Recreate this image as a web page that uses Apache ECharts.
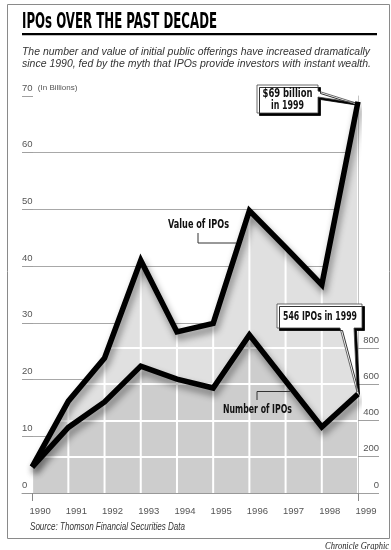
<!DOCTYPE html>
<html><head><meta charset="utf-8">
<script src="https://cdn.jsdelivr.net/npm/echarts@6/dist/echarts.min.js"></script>
<style>html,body{margin:0;padding:0;background:#fff}#c{width:391px;height:550px}</style>
</head><body><div id="c"></div>
<script>
// ---- data ----
const years = [1990, 1991, 1992, 1993, 1994, 1995, 1996, 1997, 1998, 1999];
const valueBillions = [4.6, 16.2, 23.8, 41.0, 28.4, 29.9, 49.8, 43.3, 36.7, 69.0];
const numberIPOs = [143, 362, 502, 700, 628, 579, 872, 618, 364, 546];
const leftTicks = [0, 10, 20, 30, 40, 50, 60, 70];
const rightTicks = [0, 200, 400, 600, 800];
const titleText = 'IPOs OVER THE PAST DECADE';
const subtitleLines = [
  'The number and value of initial public offerings have increased dramatically',
  'since 1990, fed by the myth that IPOs provide investors with instant wealth.'
];
const unitText = '(In Billions)';
const valueLabel = 'Value of IPOs';
const numberLabel = 'Number of IPOs';
const valueCallout = ['$69 billion', 'in 1999'];
const numberCallout = '546 IPOs in 1999';
const sourceText = 'Source: Thomson Financial Securities Data';
const creditText = 'Chronicle Graphic';

// ---- helpers ----
const SANS = '"Liberation Sans", Arial, sans-serif';
const NARROW = '"Liberation Sans Narrow", "DejaVu Sans Condensed", "Liberation Sans", sans-serif';
const SERIF = '"Liberation Serif", "DejaVu Serif", serif';
const mctx = document.createElement('canvas').getContext('2d');
function fit(text, font, w) { mctx.font = font; return w / mctx.measureText(text).width; }
function txt(text, x, y, w, size, family, weight, style, color, align) {
  const font = (style || 'normal') + ' ' + (weight || 'normal') + ' ' + size + 'px ' + family;
  const sx = w ? fit(text, font, w) : 1;
  return {
    type: 'text', x: x, y: y, scaleX: sx, z: 100,
    style: {
      text: text, fontSize: size, fontFamily: family, fontWeight: weight || 'normal',
      fontStyle: style || 'normal', fill: color || '#000',
      align: align || 'left', verticalAlign: 'middle'
    }
  };
}
const pairs = (ys) => years.map((y, i) => [y, ys[i]]);

const chart = echarts.init(document.getElementById('c'), null, { renderer: 'canvas' });

const lineShadow = { shadowColor: 'rgba(0,0,0,0.45)', shadowBlur: 7, shadowOffsetX: 2, shadowOffsetY: 5 };
const rightSplitColors = [];
for (let i = 0; i < 14; i++) rightSplitColors.push(i >= 1 && i <= 4 ? '#ffffff' : 'rgba(0,0,0,0)');

const option = {
  backgroundColor: '#fff',
  animation: false,
  grid: { left: 22, right: 33, top: 96, bottom: 57, containLabel: false },
  xAxis: {
    type: 'value', min: 1989.72, max: years[years.length - 1], z: 5,
    axisLine: { show: true, onZero: false, lineStyle: { color: '#999', width: 1 } },
    axisTick: { show: true, customValues: [years[0], years[years.length - 1]], length: 8, lineStyle: { color: '#888' } },
    axisLabel: { customValues: years, formatter: (v) => String(v), color: '#555', fontSize: 9.5, fontFamily: SANS, margin: 13, align: 'center', padding: [0, 0, 0, 16] },
    splitLine: { show: false }
  },
  yAxis: [
    {
      type: 'value', min: 0, max: 70, interval: 10, position: 'left', z: 0,
      axisLine: { show: false },
      axisTick: { show: true, inside: true, length: 11, lineStyle: { color: '#a0a0a0' } },
      axisLabel: {
        inside: true, margin: 0, align: 'left', verticalAlign: 'bottom', padding: [0, 0, 3, 0],
        color: '#555', fontSize: 9.5, fontFamily: SANS,
        formatter: (v) => v === leftTicks[leftTicks.length - 1] ? '{a|' + v + '}  {b|' + unitText + '}' : '{a|' + v + '}',
        rich: { a: { fontSize: 9.5, color: '#555', fontFamily: SANS }, b: { fontSize: 8, color: '#555', fontFamily: SANS } }
      },
      splitLine: { show: true, showMaxLine: false, lineStyle: { color: '#a8a8a8', width: 1 } }
    },
    {
      type: 'value', min: 0, max: 2190, interval: 200, position: 'right', z: 3,
      axisLine: { show: true, lineStyle: { color: '#c4c4c4', width: 1 } },
      axisTick: { show: true, customValues: rightTicks, length: 21, lineStyle: { color: '#a0a0a0' } },
      axisLabel: { customValues: rightTicks, margin: 21, align: 'right', verticalAlign: 'bottom', padding: [0, 0, 3, 0], color: '#555', fontSize: 9.5, fontFamily: SANS },
      splitLine: { show: true, lineStyle: { color: rightSplitColors, width: 2 } }
    }
  ],
  series: [
    { name: 'valueFill', type: 'line', yAxisIndex: 0, data: pairs(valueBillions), symbol: 'none', silent: true, z: 1,
      lineStyle: { width: 0 }, areaStyle: { color: '#e0e0e0', opacity: 1 } },
    { name: 'numberFill', type: 'line', yAxisIndex: 1, data: pairs(numberIPOs), symbol: 'none', silent: true, z: 1,
      lineStyle: { width: 0 }, areaStyle: { color: '#cdcdcd', opacity: 1 } },
    { name: 'yearRules', type: 'bar', yAxisIndex: 0, data: pairs(valueBillions), barWidth: 2, silent: true, z: 2,
      itemStyle: { color: '#ffffff' } },
    { name: 'Value of IPOs', type: 'line', yAxisIndex: 0, data: pairs(valueBillions), symbol: 'none', z: 6,
      lineStyle: Object.assign({ color: '#000', width: 5.5, join: 'miter', miterLimit: 10, cap: 'butt' }, lineShadow) },
    { name: 'Number of IPOs', type: 'line', yAxisIndex: 1, data: pairs(numberIPOs), symbol: 'none', z: 6,
      lineStyle: Object.assign({ color: '#000', width: 5.5, join: 'miter', miterLimit: 10, cap: 'butt' }, lineShadow) }
  ]
};
chart.setOption(option);

// ---- annotations (anchored to the 1999 data points through the chart's scales) ----
const last = years.length - 1;
const pV = chart.convertToPixel({ xAxisIndex: 0, yAxisIndex: 0 }, [years[last], valueBillions[last]]);
const pN = chart.convertToPixel({ xAxisIndex: 0, yAxisIndex: 1 }, [years[last], numberIPOs[last]]);

const boxStyle = { fill: '#fff', stroke: '#444', lineWidth: 0.8, shadowColor: '#000', shadowBlur: 0, shadowOffsetX: 2.5, shadowOffsetY: 2.5 };
const graphics = [
  { type: 'rect', shape: { x: 7.5, y: 4.5, width: 382, height: 534 }, style: { fill: 'none', stroke: '#8a8a8a', lineWidth: 1 }, z: 100, silent: true },
  txt(titleText, 22, 23, 195, 21, NARROW, 'bold', 'normal', '#000'),
  { type: 'rect', shape: { x: 22, y: 33, width: 355, height: 2.2 }, style: { fill: '#000' }, z: 100 },
  txt(subtitleLines[0], 22, 52, 348, 11, SANS, 'normal', 'italic', '#333'),
  txt(subtitleLines[1], 22, 63.5, 349, 11, SANS, 'normal', 'italic', '#333'),
  txt(valueLabel, 168, 225, 61, 12, NARROW, 'bold', 'normal', '#111'),
  { type: 'polyline', shape: { points: [[198, 233], [198, 243], [236, 243]] }, style: { stroke: '#333', lineWidth: 1, fill: null }, z: 100 },
  txt(numberLabel, 223, 410, 69, 12, NARROW, 'bold', 'normal', '#111'),
  { type: 'polyline', shape: { points: [[257, 400], [257, 391.5], [290, 391.5]] }, style: { stroke: '#333', lineWidth: 1, fill: null }, z: 100 },
  { type: 'polygon', z: 100, shape: { points: [[257, 85], [318, 85], [318, 91], [pV[0] - 3, pV[1] + 1], [318, 97], [318, 113], [257, 113]] }, style: boxStyle },
  txt(valueCallout[0], 287.5, 93.5, 50, 12.5, NARROW, 'bold', 'normal', '#111', 'center'),
  txt(valueCallout[1], 287.5, 106, 33, 12.5, NARROW, 'bold', 'normal', '#111', 'center'),
  { type: 'polygon', z: 100, shape: { points: [[277, 304], [362, 304], [362, 328], [354, 328], [pN[0] - 1, pN[1] - 2], [340, 328], [277, 328]] }, style: boxStyle },
  txt(numberCallout, 320, 316.5, 74, 13, NARROW, 'bold', 'normal', '#111', 'center'),
  txt(sourceText, 30, 527, 155, 10, SANS, 'normal', 'italic', '#333'),
  txt(creditText, 325, 546, 64, 10.5, SERIF, 'normal', 'italic', '#222')
];
chart.setOption({ graphic: graphics });
</script>
</body></html>
